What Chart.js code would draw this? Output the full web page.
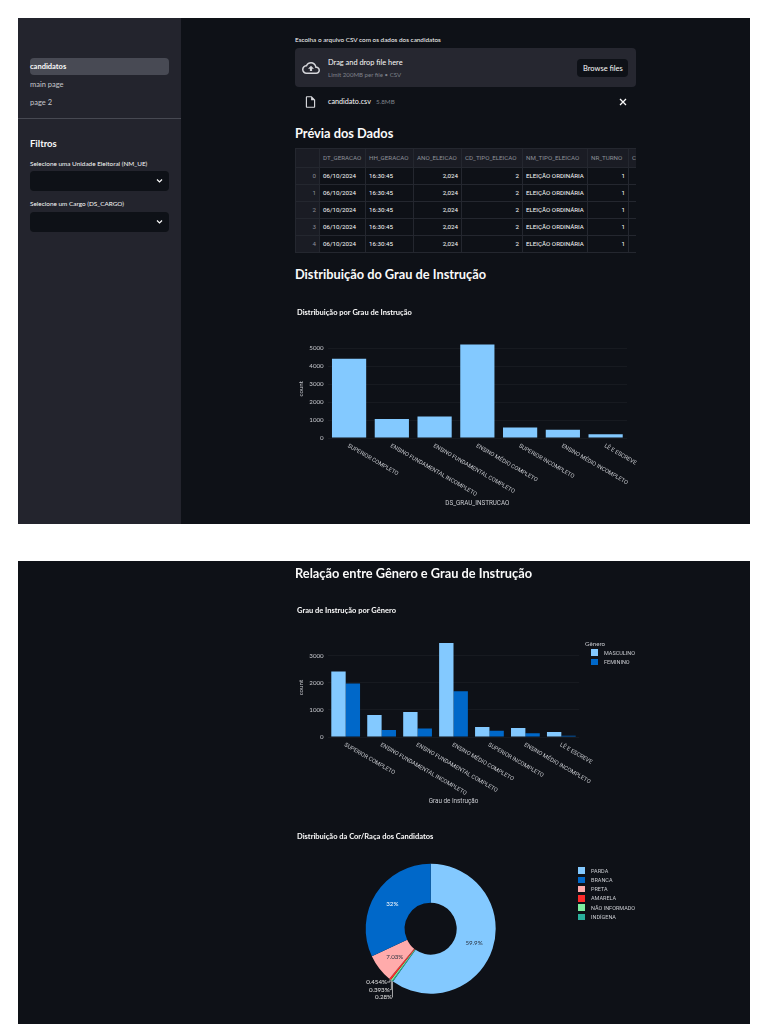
<!DOCTYPE html>
<html lang="pt">
<head>
<meta charset="utf-8">
<title>candidatos</title>
<script src="https://cdn.jsdelivr.net/npm/chart.js@4"></script>
<style>
  html, body { margin: 0; padding: 0; background: #fff; }
  body { width: 768px; height: 1024px; overflow: hidden; position: relative; font-family: Lato, sans-serif; color: #fafafa; }
  #page { position: absolute; left: 0; top: 0; width: 768px; height: 1024px; filter: blur(0.45px); }
  .box { position: absolute; }
  .t { position: absolute; transform: translateY(-50%); white-space: nowrap; line-height: 1.2; }
  .h { font-weight: 700; }
  canvas { position: absolute; }
  table { border-collapse: collapse; table-layout: fixed; width: 333px; font-size: 6.2px; font-family: Roboto, sans-serif; }
  th, td { border: 1px solid #24272f; height: 16px; padding: 0 3px; white-space: nowrap; overflow: hidden; font-weight: 400; text-align: left; }
  th { height: 18px; background: #1a1c24; color: #8d9099; }
  td.idx { background: #1a1c24; color: #8d9099; text-align: right; }
  td.num { text-align: right; }
</style>
</head>
<body>
<div id="page">
<div class="box" style="left:18px;top:18px;width:732px;height:506px;background:#0e1117"></div>
<div class="box" style="left:18px;top:561px;width:732px;height:463px;background:#0e1117"></div>

<!-- sidebar -->
<div class="box" style="left:18px;top:18px;width:163px;height:506px;background:#23242d"></div>
<div class="box" style="left:30px;top:57.5px;width:139px;height:17px;background:#484a54;border-radius:4px"></div>
<div class="t" style="left:30px;top:66px;font-size:7.5px;font-weight:700">candidatos</div>
<div class="t" style="left:30px;top:84px;font-size:7.5px;color:#c6c7cc">main page</div>
<div class="t" style="left:30px;top:101.5px;font-size:7.5px;color:#c6c7cc">page 2</div>
<div class="box" style="left:18px;top:118px;width:163px;height:1px;background:#474952"></div>
<div class="t h" style="left:30px;top:144px;font-size:9.5px">Filtros</div>
<div class="t" style="left:30px;top:163.5px;font-size:6.4px">Selecione uma Unidade Eleitoral (NM_UE)</div>
<div class="box" style="left:30px;top:171px;width:139px;height:20px;background:#0e1117;border-radius:4px"></div>
<div class="t" style="left:30px;top:204px;font-size:6.4px">Selecione um Cargo (DS_CARGO)</div>
<div class="box" style="left:30px;top:211.5px;width:139px;height:20px;background:#0e1117;border-radius:4px"></div>
<svg class="box" style="left:156px;top:178px" width="7" height="6"><polyline points="1,1.5 3.5,4 6,1.5" fill="none" stroke="#fafafa" stroke-width="1.2"/></svg>
<svg class="box" style="left:156px;top:218.5px" width="7" height="6"><polyline points="1,1.5 3.5,4 6,1.5" fill="none" stroke="#fafafa" stroke-width="1.2"/></svg>

<!-- upload -->
<div class="t" style="left:295px;top:40px;font-size:6.4px">Escolha o arquivo CSV com os dados dos candidatos</div>
<div class="box" style="left:295px;top:48px;width:341px;height:39px;background:#262730;border-radius:4px"></div>
<svg class="box" style="left:302px;top:59px" width="18" height="18" viewBox="0 0 24 24"><path fill="#d5d6da" d="M19.35 10.04C18.67 6.59 15.64 4 12 4 9.11 4 6.6 5.64 5.35 8.04 2.34 8.36 0 10.91 0 14c0 3.31 2.69 6 6 6h13c2.76 0 5-2.24 5-5 0-2.64-2.05-4.78-4.65-4.96zM19 18H6c-2.21 0-4-1.79-4-4 0-2.05 1.53-3.76 3.56-3.97l1.07-.11.5-.95C8.08 7.14 9.94 6 12 6c2.62 0 4.88 1.86 5.39 4.43l.3 1.5 1.53.11c1.56.1 2.78 1.41 2.78 2.96 0 1.65-1.35 3-3 3zM8 13h2.55v3h2.9v-3H16l-4-4z"/></svg>
<div class="t" style="left:328px;top:62.5px;font-size:7.4px">Drag and drop file here</div>
<div class="t" style="left:328px;top:74.5px;font-size:6.1px;color:#7f828b">Limit 200MB per file • CSV</div>
<div class="box" style="left:577px;top:58.5px;width:51px;height:18px;background:#0e1117;border-radius:4px"></div>
<div class="t" style="left:583px;top:67.5px;font-size:7.5px">Browse files</div>
<svg class="box" style="left:303px;top:95px" width="15" height="14" viewBox="0 0 24 24"><path fill="#d5d6da" d="M14 2H6c-1.1 0-1.99.9-1.99 2L4 20c0 1.1.89 2 1.99 2H18c1.1 0 2-.9 2-2V8l-6-6zm4 18H6V4h7v5h5v11z"/></svg>
<div class="t" style="left:328px;top:102px;font-size:7.2px">candidato.csv</div>
<div class="t" style="left:376px;top:102px;font-size:6.3px;color:#7f828b">5.8MB</div>
<svg class="box" style="left:619px;top:98px" width="8" height="8"><path d="M1 1L7 7M7 1L1 7" stroke="#fafafa" stroke-width="1.3"/></svg>

<div class="t h" style="left:295px;top:133.5px;font-size:12.8px">Prévia dos Dados</div>
<div class="box" style="left:295px;top:148px;width:341px;height:105px;overflow:hidden"><table id="preview"></table></div>
<div class="t h" style="left:295px;top:275px;font-size:12.8px">Distribuição do Grau de Instrução</div>
<div class="t h" style="left:295px;top:573.5px;font-size:12.8px">Relação entre Gênero e Grau de Instrução</div>

<canvas id="grauChart" width="340" height="207" style="left:297px;top:305px"></canvas>
<canvas id="generoChart" width="340" height="208" style="left:297px;top:603px"></canvas>
<canvas id="racaChart" width="340" height="181" style="left:297px;top:829px"></canvas>
<div id="generoLegend"></div>
<div id="racaLegend"></div>
</div>

<script>
'use strict';

const grauLabels = ['SUPERIOR COMPLETO', 'ENSINO FUNDAMENTAL INCOMPLETO', 'ENSINO FUNDAMENTAL COMPLETO', 'ENSINO MÉDIO COMPLETO', 'SUPERIOR INCOMPLETO', 'ENSINO MÉDIO INCOMPLETO', 'LÊ E ESCREVE'];
const grauCounts = [4400, 1055, 1200, 5200, 590, 463, 204];
const masculinoCounts = [2420, 815, 925, 3470, 370, 333, 185];
const femininoCounts = [1975, 260, 310, 1690, 235, 136, 50];
const generoLabels = ['MASCULINO', 'FEMININO'];
const racaLabels = ['PARDA', 'BRANCA', 'PRETA', 'AMARELA', 'NÃO INFORMADO', 'INDÍGENA'];
const racaPercents = [59.9, 32, 7.03, 0.454, 0.393, 0.28];
const racaPercentText = ['59.9%', '32%', '7.03%', '0.454%', '0.393%', '0.28%'];
// clockwise from 12 o'clock, the legend keeps the other order
const racaSliceOrder = [0, 5, 4, 3, 2, 1];

const tableColumns = ['', 'DT_GERACAO', 'HH_GERACAO', 'ANO_ELEICAO', 'CD_TIPO_ELEICAO', 'NM_TIPO_ELEICAO', 'NR_TURNO', 'C'];
const tableColumnWidths = [24, 46, 48, 48, 61, 65, 41, 20];
const tableRowIds = [0, 1, 2, 3, 4];
const tableRowValues = ['06/10/2024', '16:30:45', '2,024', '2', 'ELEIÇÃO ORDINÁRIA', '1', ''];

const lightBlue = '#83c9ff';
const darkBlue = '#0068c9';
const racaColors = [lightBlue, darkBlue, '#ffabab', '#ff2b2b', '#7defa1', '#29b09d'];
const chartFont = 'Lato, sans-serif';
const capsFont = 'Roboto, sans-serif';
const labelColor = '#c9cbd0';

function buildTable() {
  const table = document.getElementById('preview');
  let html = '<colgroup>' + tableColumnWidths.map(w => '<col style="width:' + w + 'px">').join('') + '</colgroup><tr>';
  html += tableColumns.map(c => '<th>' + c + '</th>').join('') + '</tr>';
  for (let i = 0; i < tableRowIds.length; i++) {
    html += '<tr><td class="idx">' + tableRowIds[i] + '</td>';
    for (let j = 0; j < tableRowValues.length; j++) {
      const right = j === 2 || j === 3 || j === 5;
      html += '<td' + (right ? ' class="num"' : '') + '>' + tableRowValues[j] + '</td>';
    }
    html += '</tr>';
  }
  table.innerHTML = html;
}

function buildLegend(id, left, top, labels, colors) {
  const holder = document.getElementById(id);
  let html = '';
  for (let i = 0; i < labels.length; i++) {
    const y = top + i * 9.25;
    html += '<div class="box" style="left:' + left + 'px;top:' + (y - 3.3) + 'px;width:6.5px;height:6.5px;background:' + colors[i] + '"></div>';
    html += '<div class="t" style="left:' + (left + 13) + 'px;top:' + y + 'px;font-family:' + capsFont + ';font-size:5.5px;color:' + labelColor + '">' + labels[i] + '</div>';
  }
  holder.innerHTML = html;
}

// chart.js only rotates x labels upward, these run downward from the tick
const slantedTicks = {
  id: 'slantedTicks',
  afterDraw(chart) {
    const xScale = chart.scales.x;
    const ctx = chart.ctx;
    ctx.save();
    ctx.font = '5.7px ' + capsFont;
    ctx.fillStyle = labelColor;
    ctx.textAlign = 'left';
    ctx.textBaseline = 'middle';
    xScale.ticks.forEach((tick, i) => {
      ctx.save();
      ctx.translate(xScale.getPixelForTick(i) - 1, xScale.top + 7.5);
      ctx.rotate(Math.PI / 6);
      ctx.fillText(xScale.getLabelForValue(tick.value), 0, 0);
      ctx.restore();
    });
    ctx.restore();
  },
};

function barOptions(titleText, xTitle, yMax, rightPad, titlePad, xTitleBottom) {
  return {
    responsive: false,
    animation: false,
    layout: { padding: { right: rightPad } },
    plugins: {
      legend: { display: false },
      tooltip: { enabled: false },
      title: {
        display: true,
        text: titleText,
        align: 'start',
        color: '#fafafa',
        font: { family: chartFont, size: 7.5, weight: '700', lineHeight: 1.2 },
        padding: titlePad,
      },
    },
    scales: {
      x: {
        grid: { display: false },
        border: { display: false },
        ticks: { display: false },
        title: {
          display: true,
          text: xTitle,
          color: labelColor,
          font: { family: capsFont, size: 6.3, lineHeight: 1.2 },
          padding: { top: 0, bottom: xTitleBottom },
        },
        afterFit(scale) { scale.height = 74; },
      },
      y: {
        beginAtZero: true,
        max: yMax,
        grid: { color: 'rgba(255,255,255,0.04)', drawTicks: false },
        border: { display: false },
        ticks: {
          stepSize: 1000,
          includeBounds: false,
          padding: 4,
          color: labelColor,
          format: { useGrouping: false },
          font: { family: chartFont, size: 6.2 },
        },
        title: {
          display: true,
          text: 'count',
          color: labelColor,
          font: { family: chartFont, size: 6.2, lineHeight: 1.2 },
          padding: 0,
        },
        afterFit(scale) { scale.width = 30.7; },
      },
    },
  };
}

function createGrauChart() {
  return new Chart(document.getElementById('grauChart'), {
    type: 'bar',
    data: {
      labels: grauLabels,
      datasets: [{ data: grauCounts, backgroundColor: lightBlue, categoryPercentage: 0.8, barPercentage: 1 }],
    },
    options: barOptions('Distribuição por Grau de Instrução', 'DS_GRAU_INSTRUCAO', 5474, 10, { top: 3.5, bottom: 22 }, 5),
    plugins: [slantedTicks],
  });
}

function createGeneroChart() {
  return new Chart(document.getElementById('generoChart'), {
    type: 'bar',
    data: {
      labels: grauLabels,
      datasets: [
        { label: generoLabels[0], data: masculinoCounts, backgroundColor: lightBlue, categoryPercentage: 0.8, barPercentage: 1 },
        { label: generoLabels[1], data: femininoCounts, backgroundColor: darkBlue, categoryPercentage: 0.8, barPercentage: 1 },
      ],
    },
    options: barOptions('Grau de Instrução por Gênero', 'Grau de Instrução', 3650, 57.7, { top: 3.5, bottom: 22.6 }, 6),
    plugins: [slantedTicks],
  });
}

// percent labels: inside the large slices, stacked with a leader for the thin ones
const racaPercentLabels = {
  id: 'racaPercentLabels',
  afterDraw(chart) {
    const ctx = chart.ctx;
    const arcs = chart.getDatasetMeta(0).data;
    let thinRow = 0;
    ctx.save();
    ctx.font = '6.2px ' + chartFont;
    ctx.textBaseline = 'middle';
    for (let i = arcs.length - 1; i >= 0; i--) {
      const source = racaSliceOrder[i];
      const arc = arcs[i];
      if (racaPercents[source] >= 1) {
        const center = arc.getCenterPoint();
        ctx.textAlign = 'center';
        ctx.fillStyle = source === 1 ? '#ffffff' : '#2b3340';
        ctx.fillText(racaPercentText[source], center.x, center.y);
      } else {
        const mid = (arc.startAngle + arc.endAngle) / 2;
        const edgeX = arc.x + arc.outerRadius * Math.cos(mid);
        const edgeY = arc.y + arc.outerRadius * Math.sin(mid);
        const rowY = arc.y + arc.outerRadius * 0.82 + thinRow * 7.6;
        const textEnd = edgeX - 3 + thinRow * 1.3;
        ctx.strokeStyle = '#e6e6e6';
        ctx.lineWidth = 0.7;
        ctx.beginPath();
        ctx.moveTo(edgeX, edgeY);
        ctx.lineTo(edgeX, rowY);
        ctx.lineTo(textEnd, rowY);
        ctx.stroke();
        ctx.textAlign = 'right';
        ctx.fillStyle = '#e6e6e6';
        ctx.fillText(racaPercentText[source], textEnd, rowY);
        thinRow++;
      }
    }
    ctx.restore();
  },
};

function createRacaChart() {
  return new Chart(document.getElementById('racaChart'), {
    type: 'doughnut',
    data: {
      labels: racaSliceOrder.map(i => racaLabels[i]),
      datasets: [{
        data: racaSliceOrder.map(i => racaPercents[i]),
        backgroundColor: racaSliceOrder.map(i => racaColors[i]),
        borderWidth: 0,
      }],
    },
    options: {
      responsive: false,
      animation: false,
      cutout: '40%',
      layout: { padding: { right: 72.6, bottom: 16.3 } },
      plugins: {
        legend: { display: false },
        tooltip: { enabled: false },
        title: {
          display: true,
          text: 'Distribuição da Cor/Raça dos Candidatos',
          align: 'start',
          color: '#fafafa',
          font: { family: chartFont, size: 7.5, weight: '700', lineHeight: 1.2 },
          padding: { top: 3, bottom: 22.7 },
        },
      },
    },
    plugins: [racaPercentLabels],
  });
}

buildTable();
buildLegend('generoLegend', 591, 652.7, generoLabels, [lightBlue, darkBlue]);
document.getElementById('generoLegend').insertAdjacentHTML('beforeend', '<div class="t" style="left:585px;top:644px;font-size:6.2px;color:' + labelColor + '">Gênero</div>');
buildLegend('racaLegend', 578, 870.7, racaLabels, racaColors);
createGrauChart();
createGeneroChart();
createRacaChart();
</script>
</body>
</html>
